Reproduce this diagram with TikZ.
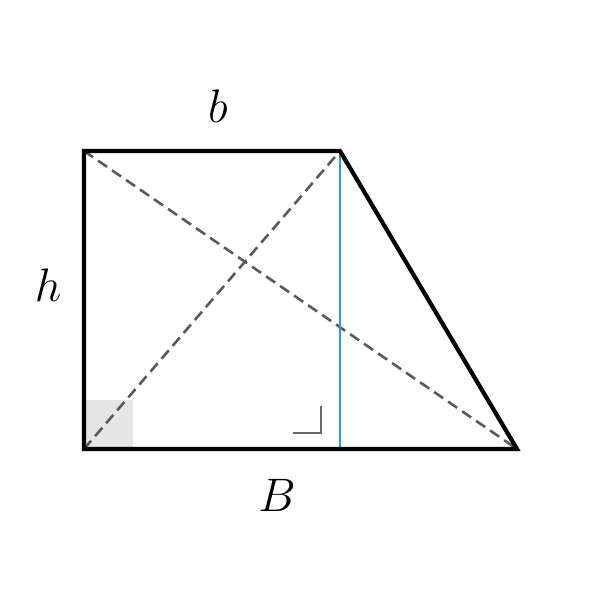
\documentclass[tikz,border=0pt]{standalone}
\usepackage{fix-cm}
\usepackage{xcolor}
\definecolor{hgtblue}{RGB}{30,160,225}
\definecolor{diaggray}{RGB}{90,90,90}
\definecolor{markgray}{RGB}{105,105,105}
\definecolor{shadegray}{RGB}{230,230,230}

\tikzset{every picture/.style={line width=0.75pt}}
\tikzset{
  sidelabel/.style={font=\fontsize{47}{47}\selectfont},
  diagline/.style={diaggray,line width=2.6pt,dash pattern={on 11pt off 6pt}},
}

\begin{document}
\begin{tikzpicture}[x=1pt,y=1pt,yscale=-1,xscale=1]
	\useasboundingbox (0,0) rectangle (600,600);

	% vertices
	\coordinate (tl) at (84,151);
	\coordinate (tr) at (340,151);
	\coordinate (br) at (517,449);
	\coordinate (bl) at (84,449);
	\coordinate (ft) at (340,449);

	%Shape: corner shade
	\fill [shadegray] (85.5,400) rectangle (133,447.5);

	%Straight Lines: diagonals
	\draw [diagline] (tl) -- (br);
	\draw [diagline] (bl) -- (tr);

	%Straight Lines: height
	\draw [hgtblue,line width=2pt] (tr) -- (ft);

	%Right angle mark
	\draw [markgray,line width=2.8pt] (321,406) -- (321,433) -- (293,433);

	%Shape: trapezoid
	\draw [line width=4.2pt,line join=miter] (tl) -- (tr) -- (br) -- (bl) -- cycle;

	% Text Node
	\node [sidelabel] (lb) at (218,106) {$b$};
	% Text Node
	\node [sidelabel] (lh) at (48,285) {$h$};
	% Text Node
	\node [sidelabel] (lB) at (277,495) {$B$};

\end{tikzpicture}
\end{document}
